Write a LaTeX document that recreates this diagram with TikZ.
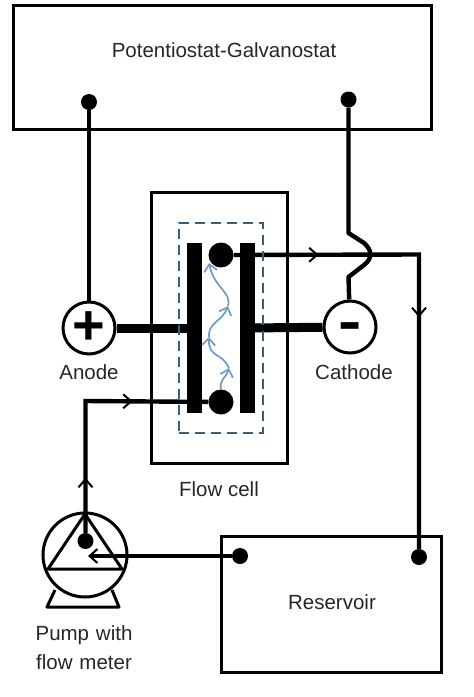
\documentclass[tikz,border=0pt]{standalone}
\usepackage{fontspec}
\setmainfont{Liberation Sans}
\usetikzlibrary{
    arrows.meta,
    positioning,
    decorations.markings
}
\definecolor{dashblue}{HTML}{3F5D79}
\definecolor{swayblue}{HTML}{6F9BC8}

\begin{document}
\begin{tikzpicture}[
    x=1pt, y=-1pt,
    box/.style={rectangle, draw, line width=3pt, inner sep=0pt},
    terminal/.style={circle, fill=black, inner sep=0pt, minimum size=16pt},
    bigdot/.style={circle, fill=black, inner sep=0pt, minimum size=25pt},
    plate/.style={rectangle, fill=black, inner sep=0pt, minimum width=15pt, minimum height=170pt},
    electrode/.style={circle, draw, line width=3pt, fill=white, inner sep=0pt, minimum size=52pt, font=\fontsize{56}{56}\selectfont\bfseries},
    pipe/.style={line width=4.4pt},
    lead/.style={line width=9pt},
    barb/.style={-{Straight Barb[length=8pt,width=14pt,line width=2pt]}},
    flowtip/.style={postaction={decorate, decoration={markings, mark=at position #1 with {\arrow{Straight Barb[length=8pt,width=14pt,line width=2pt]}}}}},
    sway/.style={draw=swayblue, line width=1.7pt, -{Straight Barb[length=7pt,width=13pt,line width=1.7pt]}},
    caption/.style={font=\fontsize{20.5}{24}\selectfont, align=center, text=black!85}
]
\useasboundingbox (0,0) rectangle (474,697);

% Instrument and cell
\node[box, minimum width=418pt, minimum height=124pt] (potentiostat) at (222,67) {};
\node[caption] (potlabel) at (224,50) {Potentiostat-Galvanostat};
\node[box, minimum width=136pt, minimum height=271pt] (flowcell) at (219,327.5) {};
\node[caption, below=14pt of flowcell] (flowlabel) {Flow cell};

% Plates and terminals
\node[plate] (plateleft) at (194.5,328) {};
\node[plate] (plateright) at (247,328) {};
\node[bigdot] (outlet) at (221,255) {};
\node[bigdot] (inlet) at (221,402) {};
\node[electrode] (anode) at (89,328) {+};
\node[electrode] (cathode) at (350,327) {\raisebox{-13.5pt}[0pt][0pt]{\scalebox{1.25}[1]{-}}};
\node[caption, below=6pt of anode] (anodelabel) {Anode};
\node[caption, below=7pt of cathode, xshift=4pt] (cathodelabel) {Cathode};
\node[terminal] (potplus) at (89,102) {};
\node[terminal] (potminus) at (348.5,99.5) {};

% Reservoir and pump
\node[box, minimum width=220pt, minimum height=136pt] (reservoir) at (331,604) {};
\node[caption] (reslabel) at (332,602) {Reservoir};
\node[terminal] (resleft) at (240,556) {};
\node[terminal] (resright) at (419,557) {};
\draw[line width=3pt, line join=round] (55,590) -- (47,607) -- (119,607) -- (112,590);
\node[circle, draw, fill=white, line width=3pt, minimum size=84pt, inner sep=0pt] (pump) at (85,555) {};
\node[terminal] (pumpdot) at (85.5,541) {};
\coordinate (apex) at (85,514);
\coordinate (baseleft) at (48,569);
\coordinate (baseright) at (122,569);
\draw[line width=3pt, line join=round] (apex) -- (baseleft) -- (baseright) -- cycle;
\node[caption, text width=110pt] (pumplabel) at (84,647.5) {Pump with\\[5pt]flow meter};

% Leads
\draw[lead] (anode) -- (plateleft);
\draw[lead] (cathode) -- (plateright);
\draw[pipe] (potplus) -- (anode);
\coordinate (hoptop) at (348.5,233);
\coordinate (hopbottom) at (348.5,277);
\draw[pipe, line join=round] (potminus) -- (hoptop) -- (364,243) .. controls (372,250) and (373,258) .. (364,265) -- (hopbottom) -- (cathode);

% Flow path
\coordinate (cornerin) at (85.5,401);
\coordinate (cornerout) at (419,254.5);
\coordinate (pumpinlet) at (88,556);
\draw[pipe, flowtip=85pt, flowtip=248pt] (outlet) -- (cornerout) -- (resright);
\draw[pipe, flowtip=55pt, flowtip=179pt] (pumpdot) -- (cornerin) -- (inlet);
\draw[pipe, barb] (resleft) -- (pumpinlet);

% Dashed enclosure
\node[rectangle, draw=dashblue, line width=2.8pt, dash pattern=on 10pt off 6pt, minimum width=84pt, minimum height=210pt, inner sep=0pt] (membrane) at (221,328) {};

% Flow inside the cell
\coordinate (swaya) at (229,368);
\coordinate (swayb) at (209,337);
\coordinate (swayc) at (228,306);
\coordinate (swayd) at (209,263);
\draw[sway] (inlet.north) .. controls (219,380) and (226,378) .. (swaya);
\draw[sway] (swaya) .. controls (222,352) and (208,358) .. (swayb);
\draw[sway] (swayb) .. controls (208,322) and (222,322) .. (swayc);
\draw[sway] (swayc) .. controls (232,292) and (214,288) .. (swayd);
\end{tikzpicture}
\end{document}
